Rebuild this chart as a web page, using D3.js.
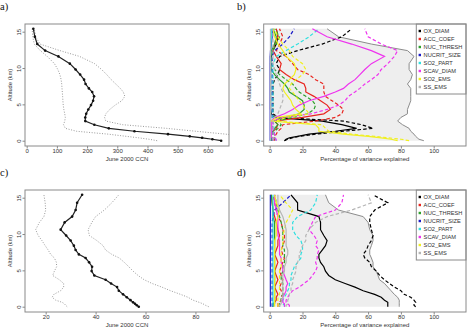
<!DOCTYPE html>
<html>
<head>
<meta charset="utf-8">
<script src="https://cdn.jsdelivr.net/npm/d3@7"></script>
<style>
body{margin:0;background:#fff;}
svg text{font-family:"Liberation Sans",Arial,sans-serif;fill:#333;}
</style>
</head>
<body>
<svg id="chart" width="474" height="332"></svg>
<script>
// altitude levels (km) shared by every profile
var altitude = [0,0.2,0.4,0.6,0.9,1.3,1.7,2.2,2.7,3.2,3.7,4.3,4.9,5.5,6.1,6.7,7.2,7.8,8.4,9.1,9.8,10.6,11.6,12.4,13.3,14.3,15.4];

// panel a : June 2000 CCN, mean and spread
var aMean = [644,615,581,540,468,357,272,224,194,194,197,204,213,220,223,217,206,195,190,177,162,143,105,61,35,27,22];
var aLow  = [432,405,370,330,270,165,128,122,126,128,126,123,121,120,119,118,117,116,114,110,103,92,68,45,25,20,18];
var aHigh = [790,770,750,720,660,560,463,318,262,258,262,275,293,315,325,320,310,295,280,265,248,225,175,110,44,30,25];

// panel c
var cMean = [57.3,56.5,55.8,55,54,52.5,51,49.3,48.6,46.2,44,39.5,38.4,38.6,37.4,36,33.3,32,31.3,30,28.2,26,27.6,30.6,32,32.6,34.6];
var cLow  = [28.6,28,27.5,26.6,24,22.6,23.3,26,27.2,27.2,25.5,22.8,23.5,24.4,24.3,23.5,22,21,19.8,18.5,17,16,17.5,19.3,20,19.8,19.3];
var cHigh = [85.3,84,83,81.5,79,77,74,70,66.5,62.6,59.5,57,55,53.3,51.5,49.5,46.5,44,43,40.5,37.5,37,38.5,40,43.5,46.5,49.3];

// panels b and d : percentage of variance explained
var params = ["OX_DIAM","ACC_COEF","NUC_THRESH","NUCRIT_SIZE","SO2_PART","SCAV_DIAM","SO2_EMS","SS_EMS"];
var colors = ["#000000","#e8251f","#2ca02c","#1c1cc8","#2fe0e0","#ee33ee","#f0f020","#b5b5b5"];

var bTotal = [94,91,90,89,88,86,85,81,78,80,84,84,85,86,86,86,86,84,86,87,85,85,88,84,62,42,35];
var bSolid = [
  [9,10,12,17,24,40,53,44,32,3,1,0.5,0.5,0.5,0.5,0.5,0.5,0.5,0.5,0.5,0.5,0.5,1,2,4,5,4],
  [1,1,1,1,1,2,4,5,3,20,33,37,35,31,27,22,22,21,15,10,6,7,4,2,3,5,4],
  [1,1,1,1,1,2,3,5,3,10,18,21,21,20,16,12,11,9,6,3,1,0.5,0.5,1,3,4,2],
  [0.3,0.3,0.3,0.3,0.3,0.3,0.3,0.3,0.3,0.3,0.3,0.3,0.3,0.3,0.3,0.3,0.3,0.3,0.3,0.3,0.3,0.3,0.3,0.5,1,1.5,1.5],
  [0.6,0.6,0.6,0.6,0.6,0.6,0.6,0.6,0.6,0.6,0.6,0.6,0.6,0.6,0.6,0.6,0.6,0.6,0.6,0.6,0.6,0.6,0.6,0.6,0.8,1,1.2],
  [2,2,1.5,1,1,1,1,1,1,3,9,14,18,24,33,40,45,48,52,55,58,62,70,62,50,35,26],
  [78,74,68,60,45,30,30,28,1,5,19,16,14,13,11,9,8,9,12,15,16,15,10,8,5,3,2],
  [0.5,0.5,0.5,0.5,0.5,0.5,0.5,0.5,0.5,0.5,0.5,0.5,0.5,0.5,0.5,0.5,0.5,0.5,0.5,0.5,0.5,0.5,0.5,0.5,0.5,0.5,0.5]
];
var bDashed = [
  [9,11,14,18,28,45,63,56,45,5,2,2,2,2,2,2,2,2,3,5,6,4,6,17,32,44,50],
  [3,3,3,3,4,5,7,8,28,40,44,45,42,38,34,33,33,33,28,24,17,14,10,4,6,8,6],
  [2,2,2,2,2,3,5,7,5,14,23,27,28,26,22,18,16,14,10,6,3,1,1,2,4,6,3],
  [1.5,1.5,1.5,1.5,1.5,1.5,1.5,1.5,1.5,1.5,1.5,1.5,1.5,1.5,1.5,1.5,1.5,1.5,1.5,1.5,1.5,1.5,1.5,3,8,12,15],
  [4,3.5,3,3,3,2.5,2.5,2.5,2,2,2,2,2,2,2,2,2,2,2,2,2,2,4,10,17,24,30],
  [4,4,3,3,3,2,2,2,2,8,25,35,42,46,48,52,55,58,62,66,68,72,76,78,68,60,58],
  [85,80,72,64,50,36,34,32,4,10,24,22,20,18,16,14,12,13,16,20,22,20,14,12,8,5,3],
  [2,2,2,2,2,2,2,2,2,3,5,6,7,8,8,8,7,6,5,4,3,2,2,2,2,2,2]
];

var dTotal = [79,79,79,79,79,78,76,74,72,70,67,66,65,63,63,62,61,61,62,63,63,61,60,57,42,36,34];
var dSolid = [
  [72,72,72,72,70,68,64,57,52,46,40,36,34,33,31,30,30,32,34,35,33,31,31,30,17,17,13],
  [2,2,3,3,4,4,5,4,3,4,5,4,3,4,5,4,3,4,5,5,6,5,4,3,2,1.5,1],
  [2,2,2,3,3,3,3,3,3,3,3,3,3,3,3,3,3,3,3,3,3,3,3,2,2,1.5,1],
  [0.4,0.4,0.4,0.4,0.4,0.4,0.4,0.4,0.4,0.4,0.4,0.4,0.4,0.4,0.4,0.4,0.4,0.4,0.4,0.4,0.4,0.4,0.4,0.4,0.4,0.4,0.4],
  [2,2,2,2,2,2,2,2,2,2,2,2,2,2,2,2,2,2,2,2,2,2,2,2,2,2,2],
  [9,9,9,8,8,8,9,10,10,11,10,9,8,8,7,7,6,6,6,6,5,5,5,5,4,3,3],
  [3,3,3,3,3,3,3,3,3,3,3,3,3,3,3,3,3,3,3,3,4,4,4,5,6,4,3],
  [6,6,7,7,7,8,8,8,8,8,8,8,9,9,10,10,11,11,10,10,10,10,9,8,6,5,5]
];
var dDashed = [
  [89,88,88,89,88,86,82,80,76,73,70,67,65,62,61,58,57,59,60,62,63,62,61,61,64,72,63],
  [5,5,5,6,7,7,8,7,6,7,8,7,6,7,8,9,8,7,8,9,9,8,7,5,4,3,2],
  [6,6,6,7,7,7,8,8,8,8,7,7,8,8,9,9,9,9,8,8,8,8,7,6,5,4,3],
  [1.5,1.5,1.5,1.5,1.5,1.5,1.5,1.5,1.5,1.5,1.5,1.5,1.5,1.5,1.5,1.5,1.5,1.5,1.5,1.5,1.5,1.5,1.5,2,3,8,13],
  [9,9,8,8,8,9,10,11,12,12,13,13,14,15,17,19,19,20,20,19,16,14,14,17,25,28,29],
  [12,12,11,10,10,11,12,14,18,21,24,26,28,29,28,29,29,30,28,29,27,24,26,28,40,44,45],
  [5,5,5,5,5,5,6,6,6,6,6,6,6,7,7,7,7,7,8,8,8,9,10,12,14,10,6],
  [10,10,11,11,11,12,12,13,13,14,14,15,16,16,17,18,18,19,20,22,22,24,28,35,50,62,60]
];

var aTicks = [0,100,200,300,400,500,600];
var cTicks = [20,40,60,80];
var pctTicks = [0,20,40,60,80,100];
var altTicks = [0,5,10,15];

var svg = d3.select("#chart");
var clipId = 0;

function zip(vals){
  return vals.map(function(v,i){ return {v:v, alt:altitude[i]}; });
}

function panel(opt){
  var g = svg.append("g");
  var x = d3.scaleLinear().domain(opt.xDomain).range([opt.left, opt.right]);
  var y = d3.scaleLinear().domain([-0.73,16.06]).range([opt.bottom, opt.top]);

  clipId++;
  svg.append("clipPath").attr("id","clip"+clipId)
    .append("rect").attr("x",opt.left).attr("y",opt.top)
    .attr("width",opt.right-opt.left).attr("height",opt.bottom-opt.top);
  var plot = g.append("g").attr("clip-path","url(#clip"+clipId+")");

  // axes
  var xa = g.append("g").attr("transform","translate(0,"+opt.bottom+")")
    .call(d3.axisBottom(x).tickValues(opt.xTicks).tickSize(2.5).tickPadding(0.5).tickSizeOuter(0));
  xa.select(".domain").remove();
  xa.selectAll("line").attr("stroke","#888");
  xa.selectAll("text").attr("font-size",6).attr("font-family","Liberation Sans, Arial, sans-serif").attr("fill","#333");

  var ya = g.append("g").attr("transform","translate("+opt.left+",0)")
    .call(d3.axisLeft(y).tickValues(altTicks).tickSize(2.5).tickSizeOuter(0));
  ya.select(".domain").remove();
  ya.selectAll("line").attr("stroke","#888");
  ya.selectAll("text").attr("font-size",6).attr("font-family","Liberation Sans, Arial, sans-serif").attr("fill","#333")
    .attr("transform","rotate(-90)").attr("text-anchor","middle")
    .attr("x",0).attr("y",-4.2).attr("dy",null);

  g.append("text").attr("transform","translate("+(opt.left-13)+","+((opt.top+opt.bottom)/2)+") rotate(-90)")
    .attr("text-anchor","middle").attr("font-size",5.8).text("Altitude (km)");
  g.append("text").attr("x",(opt.left+opt.right)/2).attr("y",opt.bottom+14.5)
    .attr("text-anchor","middle").attr("font-size",6).text(opt.xTitle);

  g.append("text").attr("x",opt.labelX).attr("y",opt.top-14)
    .attr("font-family","Liberation Serif, serif").style("font-family","Liberation Serif, serif")
    .attr("font-size",10.5).attr("fill","#111").style("fill","#111").text(opt.label);

  return {g:g, plot:plot, x:x, y:y};
}

function drawBox(p, opt){
  p.g.append("rect").attr("x",opt.left).attr("y",opt.top)
    .attr("width",opt.right-opt.left).attr("height",opt.bottom-opt.top)
    .attr("fill","none").attr("stroke","#8a8a8a").attr("stroke-width",1);
}

function profilePanel(opt, mean, low, high){
  var p = panel(opt);
  var line = d3.line().x(function(d){return p.x(d.v);}).y(function(d){return p.y(d.alt);});
  [low, high].forEach(function(s){
    p.plot.append("path").datum(zip(s)).attr("d",line)
      .attr("fill","none").attr("stroke","#9a9a9a").attr("stroke-width",1)
      .attr("stroke-dasharray","1,1.6");
  });
  p.plot.append("path").datum(zip(mean)).attr("d",line)
    .attr("fill","none").attr("stroke","#222").attr("stroke-width",1.2);
  p.plot.selectAll("circle").data(zip(mean)).enter().append("circle")
    .attr("cx",function(d){return p.x(d.v);}).attr("cy",function(d){return p.y(d.alt);})
    .attr("r",1.3).attr("fill","#111");
  drawBox(p, opt);
}

function variancePanel(opt, total, solid, dashed){
  var p = panel(opt);
  var line = d3.line().x(function(d){return p.x(d.v);}).y(function(d){return p.y(d.alt);});
  var area = d3.area().y(function(d){return p.y(d.alt);})
    .x0(p.x(0)).x1(function(d){return p.x(d.v);});
  p.plot.append("path").datum(zip(total)).attr("d",area).attr("fill","#eeeeee");
  p.plot.append("path").datum(zip(total)).attr("d",line)
    .attr("fill","none").attr("stroke","#8c8c8c").attr("stroke-width",1);

  params.forEach(function(name,i){
    p.plot.append("path").datum(zip(dashed[i])).attr("d",line)
      .attr("fill","none").attr("stroke",colors[i]).attr("stroke-width",1.2)
      .attr("stroke-dasharray","3.5,2.2");
    p.plot.append("path").datum(zip(solid[i])).attr("d",line)
      .attr("fill","none").attr("stroke",colors[i]).attr("stroke-width",1.2);
  });

  // legend
  var lg = p.g.append("g");
  lg.append("rect").attr("x",416.3).attr("y",opt.top).attr("width",opt.right-416.3).attr("height",70)
    .attr("fill","#fff").attr("stroke","#8a8a8a").attr("stroke-width",1);
  params.forEach(function(name,i){
    var yy = opt.top + 7 + i*8;
    lg.append("rect").attr("x",418.6).attr("y",yy-1.2).attr("width",2.4).attr("height",2.4).attr("fill",colors[i]);
    lg.append("text").attr("x",423.6).attr("y",yy+2.1).attr("font-size",5.7).text(name);
  });
  drawBox(p, opt);
}

profilePanel({left:25,right:229,top:24,bottom:146,xDomain:[-5.6,670],xTicks:aTicks,
  xTitle:"June 2000 CCN",label:"a)",labelX:0}, aMean, aLow, aHigh);
variancePanel({left:263.7,right:466,top:24,bottom:146,xDomain:[-3.66,119.7],xTicks:pctTicks,
  xTitle:"Percentage of variance explained",label:"b)",labelX:237}, bTotal, bSolid, bDashed);
profilePanel({left:25,right:229,top:190,bottom:312,xDomain:[11.72,93.44],xTicks:cTicks,
  xTitle:"June 2000 CCN",label:"c)",labelX:0}, cMean, cLow, cHigh);
variancePanel({left:263.7,right:466,top:190,bottom:312,xDomain:[-3.66,119.7],xTicks:pctTicks,
  xTitle:"Percentage of variance explained",label:"d)",labelX:237}, dTotal, dSolid, dDashed);
</script>
</body>
</html>
